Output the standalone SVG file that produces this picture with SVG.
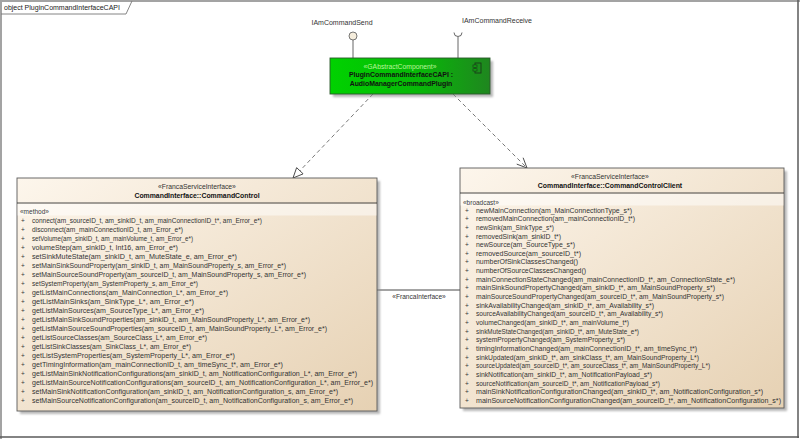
<svg xmlns="http://www.w3.org/2000/svg" width="800" height="439" viewBox="0 0 800 439">
<defs>
<linearGradient id="gBox" x1="0" y1="0" x2="1" y2="1">
<stop offset="0" stop-color="#fdf6ec"/>
<stop offset="1" stop-color="#e6d1b3"/>
</linearGradient>
<linearGradient id="gComp" x1="0" y1="0" x2="1" y2="0">
<stop offset="0" stop-color="#00d200"/>
<stop offset="0.55" stop-color="#08b808"/>
<stop offset="1" stop-color="#1f861f"/>
</linearGradient>
<filter id="sh" x="-5%" y="-5%" width="110%" height="110%">
<feGaussianBlur stdDeviation="1.2"/>
</filter>
<marker id="tri" markerWidth="12" markerHeight="12" refX="11" refY="5" orient="auto" markerUnits="userSpaceOnUse">
<path d="M1,0.5 L11,5 L1,9.5 Z" fill="#ffffff" stroke="#444" stroke-width="0.9"/>
</marker>
<marker id="vee" markerWidth="12" markerHeight="12" refX="11" refY="5" orient="auto" markerUnits="userSpaceOnUse">
<path d="M1,0.5 L11,5 L1,9.5" fill="none" stroke="#444" stroke-width="0.9"/>
</marker>
</defs>
<style>
text{font-family:"Liberation Sans",Arial,sans-serif;fill:#333}
.t{font-size:7px;fill:#222}
.lbl{font-size:7px;fill:#333}
.st{font-size:6.8px;text-anchor:middle;fill:#333}
.nm{font-size:6.9px;font-weight:bold;text-anchor:middle;fill:#111}
.row{font-size:6.5px;fill:#3a3a3a}
.box{fill:url(#gBox);stroke:#5a5a5a;stroke-width:0.9}
.shd{fill:#8a8a8a;opacity:0.6;filter:url(#sh)}
.div{stroke:#333;stroke-width:0.9}
.band{fill:#ffffff;opacity:0.5}
.dash{fill:none;stroke:#555;stroke-width:0.8;stroke-dasharray:4,3}
</style>
<rect x="0" y="0" width="800" height="439" fill="#ffffff"/>
<g id="frame">
<line x1="0" y1="1" x2="800" y2="1" stroke="#a3a3a3" stroke-width="2"/>
<line x1="1" y1="0" x2="1" y2="439" stroke="#a3a3a3" stroke-width="2"/>
<line x1="798" y1="0" x2="798" y2="438" stroke="#5a5a5a" stroke-width="1.5"/>
<line x1="0" y1="437" x2="799" y2="437" stroke="#5a5a5a" stroke-width="1.5"/>
<path d="M1,14 H126 L132,1" fill="none" stroke="#777" stroke-width="0.9"/>
<text class="t" x="4" y="10">object PluginCommandInterfaceCAPI</text>
</g>
<g id="connectors">
<path class="dash" d="M373,94 L293,178" marker-end="url(#tri)"/>
<path class="dash" d="M453,94 L527,168" marker-end="url(#vee)"/>
<line x1="377" y1="290" x2="460" y2="290" stroke="#333" stroke-width="0.9"/>
<text class="lbl" x="419" y="299" text-anchor="middle" style="font-size:6.6px">«FrancaInterface»</text>
</g>
<g id="IAmCommandSend">
<line x1="353" y1="40" x2="353" y2="58" stroke="#666" stroke-width="1"/>
<circle cx="353" cy="36" r="4" fill="#f5eddc" stroke="#666" stroke-width="0.9"/>
<text class="lbl" x="342" y="25" text-anchor="middle">IAmCommandSend</text>
</g>
<g id="IAmCommandReceive">
<line x1="458" y1="37" x2="458" y2="58" stroke="#666" stroke-width="1"/>
<path d="M454,32.5 A4,4 0 0 0 462,32.5" fill="none" stroke="#555" stroke-width="0.9"/>
<text class="lbl" x="497" y="23" text-anchor="middle">IAmCommandReceive</text>
</g>
<g id="PluginCommandInterfaceCAPI">
<rect class="shd" x="333" y="61" width="160" height="36"/>
<rect x="330" y="58" width="160" height="36" fill="url(#gComp)" stroke="#2c5a2c" stroke-width="0.9"/>
<text x="400" y="68.5" text-anchor="middle" style="font-size:6.8px;fill:#b8f59a">«GAbstractComponent»</text>
<text class="nm" x="401" y="77">PluginCommandInterfaceCAPI :</text>
<text class="nm" x="401" y="85.5">AudioManagerCommandPlugin</text>
<rect x="475" y="63" width="6" height="10" fill="none" stroke="#1a3a1a" stroke-width="0.9"/>
<rect x="473" y="65" width="4" height="2.2" fill="#0fb00f" stroke="#1a3a1a" stroke-width="0.7"/>
<rect x="473" y="68.8" width="4" height="2.2" fill="#0fb00f" stroke="#1a3a1a" stroke-width="0.7"/>
</g>
<g id="CommandControl">
<rect class="shd" x="20" y="181" width="360" height="233"/>
<rect class="box" x="17" y="178" width="360" height="233"/>
<rect class="band" x="17.5" y="203.5" width="359" height="12"/>
<line class="div" x1="17" y1="203" x2="377" y2="203"/>
<text class="st" x="197" y="189">«FrancaServiceInterface»</text>
<text class="nm" x="197" y="198">CommandInterface::CommandControl</text>
<text class="row" x="20" y="214">«method»</text>
<g class="row">
<text x="21" y="222.5">+</text><text x="32" y="222.5" textLength="230" lengthAdjust="spacingAndGlyphs">connect(am_sourceID_t, am_sinkID_t, am_mainConnectionID_t*, am_Error_e*)</text>
<text x="21" y="231.5">+</text><text x="32" y="231.5" textLength="151" lengthAdjust="spacingAndGlyphs">disconnect(am_mainConnectionID_t, am_Error_e*)</text>
<text x="21" y="240.5">+</text><text x="32" y="240.5" textLength="161" lengthAdjust="spacingAndGlyphs">setVolume(am_sinkID_t, am_mainVolume_t, am_Error_e*)</text>
<text x="21" y="249.5">+</text><text x="32" y="249.5" textLength="146" lengthAdjust="spacingAndGlyphs">volumeStep(am_sinkID_t, Int16, am_Error_e*)</text>
<text x="21" y="258.6">+</text><text x="32" y="258.6" textLength="205" lengthAdjust="spacingAndGlyphs">setSinkMuteState(am_sinkID_t, am_MuteState_e, am_Error_e*)</text>
<text x="21" y="267.6">+</text><text x="32" y="267.6" textLength="254" lengthAdjust="spacingAndGlyphs">setMainSinkSoundProperty(am_sinkID_t, am_MainSoundProperty_s, am_Error_e*)</text>
<text x="21" y="276.6">+</text><text x="32" y="276.6" textLength="274" lengthAdjust="spacingAndGlyphs">setMainSourceSoundProperty(am_sourceID_t, am_MainSoundProperty_s, am_Error_e*)</text>
<text x="21" y="285.6">+</text><text x="32" y="285.6" textLength="166" lengthAdjust="spacingAndGlyphs">setSystemProperty(am_SystemProperty_s, am_Error_e*)</text>
<text x="21" y="294.7">+</text><text x="32" y="294.7" textLength="196" lengthAdjust="spacingAndGlyphs">getListMainConnections(am_MainConnection_L*, am_Error_e*)</text>
<text x="21" y="303.7">+</text><text x="32" y="303.7" textLength="162" lengthAdjust="spacingAndGlyphs">getListMainSinks(am_SinkType_L*, am_Error_e*)</text>
<text x="21" y="312.7">+</text><text x="32" y="312.7" textLength="172" lengthAdjust="spacingAndGlyphs">getListMainSources(am_SourceType_L*, am_Error_e*)</text>
<text x="21" y="321.7">+</text><text x="32" y="321.7" textLength="278" lengthAdjust="spacingAndGlyphs">getListMainSinkSoundProperties(am_sinkID_t, am_MainSoundProperty_L*, am_Error_e*)</text>
<text x="21" y="330.8">+</text><text x="32" y="330.8" textLength="295" lengthAdjust="spacingAndGlyphs">getListMainSourceSoundProperties(am_sourceID_t, am_MainSoundProperty_L*, am_Error_e*)</text>
<text x="21" y="339.8">+</text><text x="32" y="339.8" textLength="175" lengthAdjust="spacingAndGlyphs">getListSourceClasses(am_SourceClass_L*, am_Error_e*)</text>
<text x="21" y="348.8">+</text><text x="32" y="348.8" textLength="159" lengthAdjust="spacingAndGlyphs">getListSinkClasses(am_SinkClass_L*, am_Error_e*)</text>
<text x="21" y="357.8">+</text><text x="32" y="357.8" textLength="203" lengthAdjust="spacingAndGlyphs">getListSystemProperties(am_SystemProperty_L*, am_Error_e*)</text>
<text x="21" y="366.9">+</text><text x="32" y="366.9" textLength="251" lengthAdjust="spacingAndGlyphs">getTimingInformation(am_mainConnectionID_t, am_timeSync_t*, am_Error_e*)</text>
<text x="21" y="375.9">+</text><text x="32" y="375.9" textLength="325" lengthAdjust="spacingAndGlyphs">getListMainSinkNotificationConfigurations(am_sinkID_t, am_NotificationConfiguration_L*, am_Error_e*)</text>
<text x="21" y="384.9">+</text><text x="32" y="384.9" textLength="341" lengthAdjust="spacingAndGlyphs">getListMainSourceNotificationConfigurations(am_sourceID_t, am_NotificationConfiguration_L*, am_Error_e*)</text>
<text x="21" y="393.9">+</text><text x="32" y="393.9" textLength="306" lengthAdjust="spacingAndGlyphs">setMainSinkNotificationConfiguration(am_sinkID_t, am_NotificationConfiguration_s, am_Error_e*)</text>
<text x="21" y="403">+</text><text x="32" y="403" textLength="321" lengthAdjust="spacingAndGlyphs">setMainSourceNotificationConfiguration(am_sourceID_t, am_NotificationConfiguration_s, am_Error_e*)</text>
</g>
</g>
<g id="CommandControlClient">
<rect class="shd" x="463" y="171" width="324" height="240"/>
<rect class="box" x="460" y="168" width="324" height="240"/>
<rect class="band" x="460.5" y="193.5" width="323" height="12"/>
<line class="div" x1="460" y1="193" x2="784" y2="193"/>
<text class="st" x="610" y="179">«FrancaServiceInterface»</text>
<text class="nm" x="610" y="188">CommandInterface::CommandControlClient</text>
<text class="row" x="463" y="204.5">«broadcast»</text>
<g class="row">
<text x="465" y="212.5">+</text><text x="476" y="212.5" textLength="156" lengthAdjust="spacingAndGlyphs">newMainConnection(am_MainConnectionType_s*)</text>
<text x="465" y="221.2">+</text><text x="476" y="221.2" textLength="159" lengthAdjust="spacingAndGlyphs">removedMainConnection(am_mainConnectionID_t*)</text>
<text x="465" y="229.8">+</text><text x="476" y="229.8" textLength="78" lengthAdjust="spacingAndGlyphs">newSink(am_SinkType_s*)</text>
<text x="465" y="238.5">+</text><text x="476" y="238.5" textLength="85" lengthAdjust="spacingAndGlyphs">removedSink(am_sinkID_t*)</text>
<text x="465" y="247.1">+</text><text x="476" y="247.1" textLength="99" lengthAdjust="spacingAndGlyphs">newSource(am_SourceType_s*)</text>
<text x="465" y="255.8">+</text><text x="476" y="255.8" textLength="105" lengthAdjust="spacingAndGlyphs">removedSource(am_sourceID_t*)</text>
<text x="465" y="264.4">+</text><text x="476" y="264.4" textLength="102" lengthAdjust="spacingAndGlyphs">numberOfSinkClassesChanged()</text>
<text x="465" y="273.1">+</text><text x="476" y="273.1" textLength="110" lengthAdjust="spacingAndGlyphs">numberOfSourceClassesChanged()</text>
<text x="465" y="281.7">+</text><text x="476" y="281.7" textLength="259" lengthAdjust="spacingAndGlyphs">mainConnectionStateChanged(am_mainConnectionID_t*, am_ConnectionState_e*)</text>
<text x="465" y="290.4">+</text><text x="476" y="290.4" textLength="239" lengthAdjust="spacingAndGlyphs">mainSinkSoundPropertyChanged(am_sinkID_t*, am_MainSoundProperty_s*)</text>
<text x="465" y="299">+</text><text x="476" y="299" textLength="248" lengthAdjust="spacingAndGlyphs">mainSourceSoundPropertyChanged(am_sourceID_t*, am_MainSoundProperty_s*)</text>
<text x="465" y="307.7">+</text><text x="476" y="307.7" textLength="178" lengthAdjust="spacingAndGlyphs">sinkAvailabilityChanged(am_sinkID_t*, am_Availability_s*)</text>
<text x="465" y="316.3">+</text><text x="476" y="316.3" textLength="187" lengthAdjust="spacingAndGlyphs">sourceAvailabilityChanged(am_sourceID_t*, am_Availability_s*)</text>
<text x="465" y="325">+</text><text x="476" y="325" textLength="153" lengthAdjust="spacingAndGlyphs">volumeChanged(am_sinkID_t*, am_mainVolume_t*)</text>
<text x="465" y="333.6">+</text><text x="476" y="333.6" textLength="163" lengthAdjust="spacingAndGlyphs">sinkMuteStateChanged(am_sinkID_t*, am_MuteState_e*)</text>
<text x="465" y="342.3">+</text><text x="476" y="342.3" textLength="149" lengthAdjust="spacingAndGlyphs">systemPropertyChanged(am_SystemProperty_s*)</text>
<text x="465" y="350.9">+</text><text x="476" y="350.9" textLength="221" lengthAdjust="spacingAndGlyphs">timingInformationChanged(am_mainConnectionID_t*, am_timeSync_t*)</text>
<text x="465" y="359.6">+</text><text x="476" y="359.6" textLength="223" lengthAdjust="spacingAndGlyphs">sinkUpdated(am_sinkID_t*, am_sinkClass_t*, am_MainSoundProperty_L*)</text>
<text x="465" y="368.2">+</text><text x="476" y="368.2" textLength="234" lengthAdjust="spacingAndGlyphs">sourceUpdated(am_sourceID_t*, am_sourceClass_t*, am_MainSoundProperty_L*)</text>
<text x="465" y="376.9">+</text><text x="476" y="376.9" textLength="176" lengthAdjust="spacingAndGlyphs">sinkNotification(am_sinkID_t*, am_NotificationPayload_s*)</text>
<text x="465" y="385.5">+</text><text x="476" y="385.5" textLength="184" lengthAdjust="spacingAndGlyphs">sourceNotification(am_sourceID_t*, am_NotificationPayload_s*)</text>
<text x="465" y="394.2">+</text><text x="476" y="394.2" textLength="287" lengthAdjust="spacingAndGlyphs">mainSinkNotificationConfigurationChanged(am_sinkID_t*, am_NotificationConfiguration_s*)</text>
<text x="465" y="402.8">+</text><text x="476" y="402.8" textLength="305" lengthAdjust="spacingAndGlyphs">mainSourceNotificationConfigurationChanged(am_sourceID_t*, am_NotificationConfiguration_s*)</text>
</g>
</g>
</svg>
